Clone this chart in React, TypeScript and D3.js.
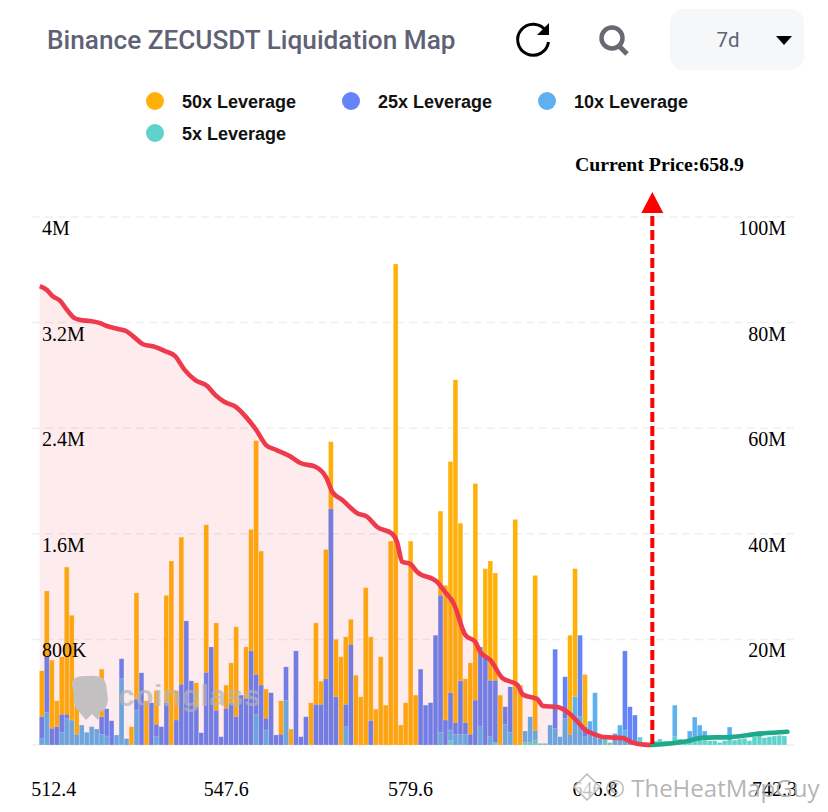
import React from "react";
import * as d3 from "d3";

// liquidation per price bin, in thousands (left axis). 150 bins.
const lev50 = [
  562, 1167, 643, 335, 668, 1348, 983, 302, 0, 0,
  0, 0, 575, 0, 0, 0, 0, 0, 139, 1152,
  0, 335, 0, 411, 0, 1134, 1394, 411, 1575, 0,
  0, 471, 0, 1668, 0, 925, 0, 454, 622, 895,
  0, 743, 1633, 2306, 1469, 423, 0, 0, 335, 0,
  121, 0, 0, 0, 320, 925, 484, 1482, 2298, 801,
  668, 819, 953, 529, 365, 1192, 819, 272, 668, 302,
  1545, 3644, 151, 320, 1545, 378, 0, 0, 0, 0,
  1772, 1210, 2147, 2767, 1681, 501, 622, 1981, 0, 1336,
  1394, 1303, 378, 0, 0, 1709, 454, 0, 0, 1285,
  0, 0, 0, 0, 0, 0, 832, 1336, 0, 534,
  0, 0, 0, 0, 0, 0, 0, 0, 0, 0,
  0, 0, 0, 0, 0, 0, 0, 0, 0, 0,
  0, 0, 0, 0, 0, 0, 0, 0, 0, 0,
  0, 0, 0, 0, 0, 0, 0, 0, 0, 0,
];
const lev25 = [
  214, 668, 126, 139, 232, 232, 0, 0, 0, 0,
  0, 0, 214, 275, 184, 0, 653, 0, 0, 348,
  547, 0, 320, 156, 139, 320, 0, 189, 459, 940,
  486, 290, 93, 549, 743, 262, 63, 277, 320, 214,
  378, 353, 713, 534, 454, 202, 396, 76, 81, 592,
  0, 713, 63, 214, 0, 307, 307, 501, 1789, 365,
  0, 307, 761, 0, 0, 0, 184, 0, 0, 0,
  0, 0, 0, 0, 0, 0, 575, 302, 320, 832,
  1134, 189, 396, 169, 486, 169, 81, 340, 743, 680,
  489, 489, 0, 290, 441, 0, 0, 0, 0, 0,
  0, 0, 0, 726, 0, 517, 0, 0, 832, 139,
  0, 0, 0, 0, 0, 0, 0, 713, 290, 227,
  0, 0, 0, 0, 0, 0, 0, 0, 0, 0,
  0, 0, 0, 0, 0, 0, 0, 0, 0, 0,
  0, 0, 0, 0, 0, 0, 0, 0, 0, 0,
];
const lev10 = [
  50, 247, 0, 0, 96, 202, 189, 81, 151, 96,
  139, 121, 81, 68, 0, 76, 504, 48, 0, 265,
  0, 0, 0, 63, 0, 0, 0, 0, 0, 0,
  0, 0, 0, 0, 0, 0, 0, 0, 0, 0,
  0, 0, 0, 232, 0, 113, 0, 0, 0, 338,
  0, 0, 0, 0, 0, 0, 0, 0, 0, 0,
  0, 139, 0, 0, 0, 0, 0, 0, 0, 0,
  0, 0, 0, 0, 0, 0, 0, 0, 0, 0,
  96, 0, 113, 81, 81, 81, 0, 0, 139, 0,
  63, 0, 0, 156, 96, 0, 0, 106, 214, 108,
  0, 0, 151, 126, 63, 202, 81, 365, 214, 63,
  181, 396, 50, 0, 0, 88, 151, 113, 25, 0,
  0, 0, 0, 0, 0, 0, 0, 302, 0, 0,
  106, 212, 151, 106, 0, 0, 0, 0, 136, 0,
  0, 0, 0, 0, 0, 0, 0, 0, 0, 0,
];
const lev5 = [
  0, 0, 0, 0, 0, 0, 0, 0, 0, 0,
  0, 0, 0, 0, 0, 0, 0, 0, 0, 0,
  0, 0, 0, 0, 0, 0, 0, 0, 0, 0,
  0, 0, 0, 0, 0, 0, 0, 0, 0, 0,
  0, 0, 0, 0, 0, 0, 0, 0, 0, 0,
  0, 0, 0, 0, 0, 0, 0, 0, 0, 0,
  0, 0, 0, 0, 0, 0, 0, 0, 0, 0,
  0, 0, 0, 0, 0, 0, 0, 0, 0, 0,
  0, 0, 33, 0, 0, 0, 0, 0, 0, 0,
  0, 20, 0, 0, 0, 0, 0, 20, 20, 38,
  13, 13, 0, 0, 0, 0, 0, 0, 0, 0,
  0, 0, 0, 50, 18, 0, 0, 0, 0, 0,
  60, 0, 0, 30, 45, 30, 30, 63, 45, 33,
  33, 33, 43, 33, 33, 33, 20, 33, 33, 38,
  45, 50, 33, 63, 106, 55, 63, 68, 73, 68,
];

// cumulative lines: bin position and value in millions (right axis)
const shortBins = [
  -0.4, 1, 2.2, 3.7, 4.9, 6.5, 7.7, 9.7, 11.7, 12.9, 15.3, 16.9, 18.7, 20.3, 22.7, 24.7, 26.7, 28.7, 30.8, 33.2,
  34.8, 36.6, 39, 41, 43, 45, 47, 49.8, 51.9, 54.9, 57.1, 58.3, 60.3, 63.3, 65.3, 67.3, 70.3, 71.3, 72.3, 73.9,
  75.3, 79.3, 80.9, 82.6, 85, 87, 88, 90, 92.4, 95.4, 96.6, 99.4, 100.6, 103.4, 105.7, 107.5, 109.1, 110.7, 112.7, 116.7,
  118.1, 119.7, 122.5,
];
const shortCum = [
  86.9, 86.2, 85, 84.1, 82.6, 80.9, 80.5, 80.3, 79.9, 79.4, 78.8, 78.4, 77.1, 75.9, 75.4, 74.6, 73.7, 71, 69.1, 68,
  66.3, 65, 64, 62.1, 59.7, 56.8, 55.9, 54.7, 53.4, 52.7, 50.6, 47.9, 46.4, 43.9, 43.2, 41.3, 40, 38.4, 34.7, 34.3,
  32.8, 30.9, 29, 26.9, 20.8, 19.5, 17.6, 16.1, 12.7, 11.4, 9.5, 8.7, 7.4, 7.2, 6.1, 4.4, 2.8, 2.1, 1.5, 1.3,
  0.6, 0.2, 0,
];
const longBins = [122.5, 128.8, 132.8, 138.2, 143.6, 149.6];
const longCum = [0, 0.6, 1.4, 1.5, 2.1, 2.5];

const leftTicks = [800, 1600, 2400, 3200, 4000];
const leftLabels = ["800K", "1.6M", "2.4M", "3.2M", "4M"];
const rightTicks = [20, 40, 60, 80, 100];
const rightLabels = ["20M", "40M", "60M", "80M", "100M"];
const priceBins = [2.4, 37, 74, 111, 147];
const priceLabels = ["512.4", "547.6", "579.6", "646.8", "742.3"];
const currentBin = 122.5;

const legend = [
  { name: "50x Leverage", color: "#ffb10a", x: 155, y: 101 },
  { name: "25x Leverage", color: "#6584f7", x: 351, y: 101 },
  { name: "10x Leverage", color: "#5eb0ee", x: 547, y: 101 },
  { name: "5x Leverage", color: "#5fd3cb", x: 155, y: 133 },
];

const serif = "'Liberation Serif', serif";
const sans = "'Liberation Sans', sans-serif";

export default function App() {
  const left = 39.3;
  const right = 786.9;
  const top = 217;
  const bottom = 745;

  const band = d3.scaleBand<number>().domain(d3.range(lev50.length)).range([left, right]).paddingInner(0.04).paddingOuter(0.02);
  const binX = d3.scaleLinear().domain([0, lev50.length - 1]).range([band(0)! + band.bandwidth() / 2, band(lev50.length - 1)! + band.bandwidth() / 2]);
  const yLeft = d3.scaleLinear().domain([0, 4000]).range([bottom, top]);
  const yRight = d3.scaleLinear().domain([0, 100]).range([bottom, top]);

  const shortPts = shortBins.map((b, i) => [binX(b), yRight(shortCum[i])] as [number, number]);
  const longPts = longBins.map((b, i) => [binX(b), yRight(longCum[i])] as [number, number]);
  const line = d3.line().curve(d3.curveMonotoneX);
  const area = d3.area().y0(bottom).curve(d3.curveMonotoneX);

  const series = [
    { values: lev50, color: "#ffb10a" },
    { values: lev25, color: "#6584f7" },
    { values: lev10, color: "#5eb0ee" },
    { values: lev5, color: "#5fd3cb" },
  ];
  const cx = binX(currentBin);

  return (
    <svg width={828} height={812} viewBox="0 0 828 812" style={{ position: "absolute", left: 0, top: 0, background: "#fff" }}>
      {/* header */}
      <text x={47} y={49} fontFamily="Roboto, sans-serif" fontWeight={500} fontSize={26.2} fill="#5f6274">Binance ZECUSDT Liquidation Map</text>
      <path d="M546 31 A15.5 15.5 0 1 0 548.5 42" fill="none" stroke="#000" strokeWidth={3} />
      <path d="M549 23 L549 35 L537 35 Z" fill="#000" />
      <circle cx={612} cy={38} r={10.5} fill="none" stroke="#686a72" strokeWidth={4.5} />
      <path d="M619 46 L627 54" stroke="#686a72" strokeWidth={5} />
      <rect x={670} y={9} width={134} height={61} rx={14} fill="#f6f7f9" />
      <text x={728} y={47} textAnchor="middle" fontFamily="Roboto, sans-serif" fontSize={20.5} fill="#5f6274">7d</text>
      <path d="M776 36 L792 36 L784 45 Z" fill="#000" />

      {/* legend */}
      {legend.map(d => (
        <g key={d.name}>
          <circle cx={d.x} cy={d.y} r={9} fill={d.color} />
          <text x={d.x + 27} y={d.y + 6.5} fontFamily={sans} fontWeight={700} fontSize={18} fill="#111">{d.name}</text>
        </g>
      ))}

      {/* grid */}
      {[0, ...leftTicks].map(t => (
        <line key={t} x1={32} x2={795} y1={yLeft(t)} y2={yLeft(t)} stroke="#efefef" strokeWidth={1.5} strokeDasharray="8 5" />
      ))}

      {/* bars, drawn over each other, tallest series at the back */}
      {series.map(s => (
        <g key={s.color} fill={s.color} stroke="#fff" strokeOpacity={0.45} strokeWidth={0.5}>
          {s.values.map((v, i) => v > 0 && (
            <rect key={i} x={band(i)} y={yLeft(v)} width={band.bandwidth()} height={bottom - yLeft(v)} />
          ))}
        </g>
      ))}

      {/* cumulative lines */}
      <path d={area(shortPts)!} fill="#ee3a4c" fillOpacity={0.1} />
      <path d={line(shortPts)!} fill="none" stroke="#ee3a4c" strokeWidth={4.6} strokeLinejoin="round" />
      <path d={line(longPts)!} fill="none" stroke="#1fa98a" strokeWidth={4.6} strokeLinecap="round" />

      {/* coinglass watermark */}
      <path d="M72 684 Q72 675 88 676 Q104 674 106 684 L108 700 Q106 712 100 712 L98 720 L92 714 L86 720 L80 713 Q72 706 74 696 Z" fill="#c2c0c0" />
      <text x={118} y={706} fontFamily={sans} fontWeight={700} fontSize={30} fill="#b4b4b4" fillOpacity={0.7} letterSpacing={0.5}>coinglass</text>

      {/* current price */}
      <line x1={cx} x2={cx} y1={216} y2={bottom} stroke="#f00" strokeWidth={4} strokeDasharray="10 4" />
      <path d={`M${cx} 192 L${cx + 11} 213 L${cx - 11} 213 Z`} fill="#f00" />
      <text x={575} y={171} fontFamily={serif} fontWeight={700} fontSize={19.8} fill="#000">Current Price:658.9</text>

      {/* axis labels */}
      {leftTicks.map((t, i) => (
        <text key={t} x={42} y={yLeft(t) + 18} fontFamily={serif} fontSize={20} fill="#000">{leftLabels[i]}</text>
      ))}
      {rightTicks.map((t, i) => (
        <text key={t} x={786} y={yRight(t) + 18} textAnchor="end" fontFamily={serif} fontSize={20} fill="#000">{rightLabels[i]}</text>
      ))}
      {priceBins.map((b, i) => (
        <text key={b} x={binX(b)} y={796} textAnchor="middle" fontFamily={serif} fontSize={20} fill="#000">{priceLabels[i]}</text>
      ))}

      {/* author watermark */}
      <path d="M587 774 L600 787 L587 800 L574 787 Z" fill="#fff" fillOpacity={0.75} stroke="#b9b9b9" strokeWidth={1.5} />
      <text x={605} y={797} fontFamily="'Open Sans', sans-serif" fontSize={24} fill="#a8a8a8" fillOpacity={0.85}>© TheHeatMapGuy</text>
    </svg>
  );
}
